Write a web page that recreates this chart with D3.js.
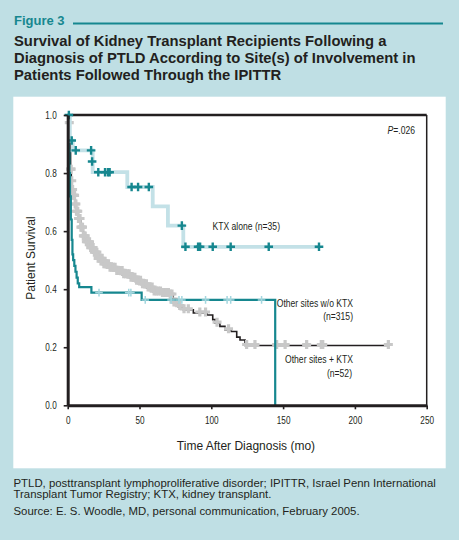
<!DOCTYPE html>
<html>
<head>
<meta charset="utf-8">
<script src="https://cdn.jsdelivr.net/npm/d3@7"></script>
<style>
  body { margin: 0; background: #bfdfe4; }
  svg { display: block; }
  .narrow, .sans { font-family: "Liberation Sans", Arial, Helvetica, sans-serif; }
</style>
</head>
<body>
<svg id="chart" width="459" height="540"></svg>
<script>
// Axis ticks
const xTicks = [0, 50, 100, 150, 200, 250];
const yTicks = [0, 0.2, 0.4, 0.6, 0.8, 1.0];

// KTX alone (n=35): step curve [months, survival] and censor marks
const ktxAloneSteps = [
  [0, 1.0], [1.5, 0.912], [3.5, 0.878], [17.4, 0.803], [41.5, 0.752],
  [59.2, 0.685], [69.8, 0.619], [80.5, 0.546], [175, 0.546],
];
const ktxAloneCensor = [
  [0.8, 1.0], [2.8, 0.912], [5.6, 0.878], [16.3, 0.878], [17, 0.84],
  [21.3, 0.803], [26, 0.803], [28, 0.803], [29.2, 0.803],
  [44.5, 0.752], [49, 0.752], [56.5, 0.752], [79.5, 0.619],
  [82, 0.546], [90.8, 0.546], [92.2, 0.546], [101, 0.546], [113.5, 0.546],
  [140, 0.546], [175, 0.546],
];

// Teal curve (drops to 0 at ~145 mo)
const tealSteps = [
  [0, 1.0], [0.4, 0.95], [0.8, 0.88], [1.2, 0.8], [1.6, 0.72], [2.2, 0.64],
  [2.8, 0.57], [3.3, 0.52], [3.8, 0.5], [4.6, 0.48], [5.4, 0.46], [6.2, 0.44],
  [7, 0.42], [8, 0.407], [16.5, 0.388], [51.5, 0.363], [144.5, 0],
];
const tealCensor = [21.8, 42.5, 44, 54, 72, 77.5, 79.5, 96, 111, 113.5, 135];

// Black curve with dense gray censor marks
const blackSteps = [
  [0, 1.0], [0.5, 0.97], [1.2, 0.93], [1.6, 0.87], [2, 0.81], [2.5, 0.77],
  [3, 0.74], [3.9, 0.72], [5, 0.69], [6, 0.665], [7.4, 0.64], [9, 0.61],
  [10.9, 0.58], [13, 0.56], [15.5, 0.54], [17.8, 0.524], [21, 0.503],
  [24.8, 0.484], [29, 0.472], [34, 0.461], [38, 0.45], [43.4, 0.438],
  [47, 0.427], [51.5, 0.415], [55, 0.404], [59.6, 0.39], [65, 0.385],
  [71, 0.38], [73.5, 0.352], [77, 0.34], [80.5, 0.329], [87.5, 0.318],
  [97, 0.311], [101, 0.295], [102.6, 0.283], [106, 0.272], [109.5, 0.26],
  [114, 0.254], [117.7, 0.235], [120, 0.225], [123.5, 0.206], [223.3, 0.206],
];
const blackCensor = [
  1.1, 2, 2.4, 2.8, 3.4, 3.9, 4.3, 4.8, 5.2, 5.7, 6.1, 6.6, 7, 7.5, 8.1, 8.6,
  9.2, 9.8, 10.3, 10.9, 11.6, 12.2, 13, 13.7, 14.5, 15.2, 16, 16.9, 17.7,
  18.6, 19.4, 20.3, 21.2, 22, 23.1, 24, 25.2, 26.1, 27.3, 28.4, 29.5, 30.7,
  31.8, 33, 34.2, 35.5, 36.6, 37.9, 39, 40.3, 41.6, 42.8, 44.1, 45.5, 46.8,
  48, 49.4, 50.7, 52.1, 53.4, 54.8, 56, 57.5, 58.8, 60.2, 61.7, 63, 64.6,
  66, 67.4, 68.8, 70.1, 71.4, 72.6, 74, 75.5, 78, 81, 84, 92, 96, 104,
  112, 124.6, 130.4, 145.5, 151.4, 166.4, 176.6, 177.6, 223.3,
];

const footLines = [
  'PTLD, posttransplant lymphoproliferative disorder; IPITTR, Israel Penn International',
  'Transplant Tumor Registry; KTX, kidney transplant.',
];
const sourceLine = 'Source: E. S. Woodle, MD, personal communication, February 2005.';
const titleLines = [
  'Survival of Kidney Transplant Recipients Following a',
  'Diagnosis of PTLD According to Site(s) of Involvement in',
  'Patients Followed Through the IPITTR',
];

const INK = '#231f20';
const TEAL = '#16878f';
const NARROW = 0.78; // the print uses a condensed face

const svg = d3.select('#chart');

// squeeze a text selection horizontally (no condensed font installed)
function condense(sel, k) {
  sel.each(function () {
    const w = this.getComputedTextLength();
    d3.select(this).attr('textLength', w * k).attr('lengthAdjust', 'spacingAndGlyphs');
  });
}

// Header
svg.append('text').attr('class', 'sans')
  .attr('x', 14).attr('y', 24.5)
  .attr('font-size', 13).attr('font-weight', 'bold').attr('fill', TEAL)
  .text('Figure 3');
svg.append('line')
  .attr('x1', 73).attr('x2', 443).attr('y1', 23.5).attr('y2', 23.5)
  .attr('stroke', TEAL).attr('stroke-width', 2);

svg.append('g').selectAll('text')
  .data(titleLines)
  .join('text')
  .attr('class', 'sans')
  .attr('x', 14)
  .attr('y', (d, i) => 45.5 + i * 17.4)
  .attr('font-size', 14.8).attr('font-weight', 'bold').attr('fill', INK)
  .text(d => d);

// White panel
svg.append('rect')
  .attr('x', 13.3).attr('y', 96.7).attr('width', 432.4).attr('height', 371.6)
  .attr('fill', '#fff');

// Footnotes
svg.append('g').selectAll('text')
  .data(footLines)
  .join('text')
  .attr('class', 'sans')
  .attr('x', 13.5)
  .attr('y', (d, i) => 487 + i * 11)
  .attr('font-size', 11.4).attr('fill', INK)
  .text(d => d);
svg.append('text').attr('class', 'sans')
  .attr('x', 13.5).attr('y', 515)
  .attr('font-size', 11.4).attr('fill', INK)
  .text(sourceLine);

// Scales
const x = d3.scaleLinear().domain([0, 250]).range([67.7, 426.7]);
const y = d3.scaleLinear().domain([0, 1]).range([405.3, 115]);

const stepLine = d3.line()
  .x(d => x(d[0]))
  .y(d => y(d[1]))
  .curve(d3.curveStepAfter);

function levelAt(steps, t) {
  let s = steps[0][1];
  for (const p of steps) { if (p[0] <= t) s = p[1]; }
  return s;
}

function crossPath(size) {
  return `M${-size},0H${size}M0,${-size}V${size}`;
}

// Frame top/right
svg.append('line')
  .attr('x1', x(0)).attr('x2', x(250)).attr('y1', y(1)).attr('y2', y(1))
  .attr('stroke', INK).attr('stroke-width', 2.5);
svg.append('line')
  .attr('x1', x(250)).attr('x2', x(250)).attr('y1', y(1)).attr('y2', y(0))
  .attr('stroke', INK).attr('stroke-width', 1.5);

// Black line + gray censor marks
const blackG = svg.append('g');
blackG.append('path')
  .attr('d', stepLine(blackSteps))
  .attr('fill', 'none').attr('stroke', INK).attr('stroke-width', 1.6);
blackG.selectAll('path.gc')
  .data(blackCensor)
  .join('path')
  .attr('class', 'gc')
  .attr('d', crossPath(4.5))
  .attr('transform', t => `translate(${x(t)},${y(levelAt(blackSteps, t)) - 1})`)
  .attr('stroke', '#c8c8c8').attr('stroke-width', 3.2).attr('fill', 'none');

// Teal line + light censor marks
const tealG = svg.append('g');
tealG.append('path')
  .attr('d', stepLine(tealSteps))
  .attr('fill', 'none').attr('stroke', TEAL).attr('stroke-width', 2.2);
tealG.selectAll('path.tc')
  .data(tealCensor)
  .join('path')
  .attr('class', 'tc')
  .attr('d', crossPath(3.8))
  .attr('transform', t => `translate(${x(t)},${y(levelAt(tealSteps, t))})`)
  .attr('stroke', '#a3d6de').attr('stroke-width', 1.5).attr('fill', 'none');

// KTX alone light line + teal crosses
const ktxG = svg.append('g');
ktxG.append('path')
  .attr('d', stepLine(ktxAloneSteps))
  .attr('fill', 'none').attr('stroke', '#c3e1e7').attr('stroke-width', 3.8);
ktxG.selectAll('path.kc')
  .data(ktxAloneCensor)
  .join('path')
  .attr('class', 'kc')
  .attr('d', crossPath(4.3))
  .attr('transform', d => `translate(${x(d[0])},${y(d[1])})`)
  .attr('stroke', TEAL).attr('stroke-width', 2.4).attr('fill', 'none');

// Axes
const yAxis = svg.append('g')
  .attr('transform', `translate(${x(0)},0)`)
  .call(d3.axisLeft(y).tickValues(yTicks).tickFormat(d3.format('.1f'))
    .tickSize(4).tickSizeOuter(0).tickPadding(7));
const xAxis = svg.append('g')
  .attr('transform', `translate(0,${y(0)})`)
  .call(d3.axisBottom(x).tickValues(xTicks).tickFormat(d3.format('d'))
    .tickSize(4).tickSizeOuter(0).tickPadding(7));

[yAxis, xAxis].forEach(g => {
  g.attr('font-family', null);
  g.select('.domain').attr('stroke', INK).attr('stroke-width', 3);
  g.selectAll('.tick line').attr('stroke', INK).attr('stroke-width', 1.6);
  g.selectAll('.tick text')
    .attr('class', 'narrow')
    .attr('font-size', 10.5).attr('fill', INK)
    .call(condense, NARROW);
});

// Axis titles
svg.append('text').attr('class', 'sans')
  .attr('x', 246).attr('y', 450)
  .attr('text-anchor', 'middle')
  .attr('font-size', 12).attr('fill', INK)
  .text('Time After Diagnosis (mo)');
svg.append('text').attr('class', 'sans')
  .attr('transform', 'translate(35,258) rotate(-90)')
  .attr('text-anchor', 'middle')
  .attr('font-size', 12).attr('fill', INK)
  .text('Patient Survival');

// In-plot labels; P value squeezed by a scale so its italic P stays in one run
const pText = svg.append('text').attr('class', 'narrow')
  .attr('transform', `translate(415,134) scale(${NARROW},1)`)
  .attr('text-anchor', 'end')
  .attr('font-size', 11).attr('fill', INK);
pText.append('tspan').attr('font-style', 'italic').text('P');
pText.append('tspan').text('=.026');

const labels = [
  { text: 'KTX alone (n=35)', x: 212.5, y: 230, anchor: 'start' },
  { text: 'Other sites w/o KTX', x: 353, y: 306.5, anchor: 'end' },
  { text: '(n=315)', x: 353, y: 319.5, anchor: 'end' },
  { text: 'Other sites + KTX', x: 353, y: 362.5, anchor: 'end' },
  { text: '(n=52)', x: 352, y: 376.5, anchor: 'end' },
];
svg.append('g').selectAll('text')
  .data(labels)
  .join('text')
  .attr('class', 'narrow')
  .attr('x', d => d.x).attr('y', d => d.y)
  .attr('text-anchor', d => d.anchor)
  .attr('font-size', 11).attr('fill', INK)
  .text(d => d.text)
  .call(condense, NARROW);
</script>
</body>
</html>
